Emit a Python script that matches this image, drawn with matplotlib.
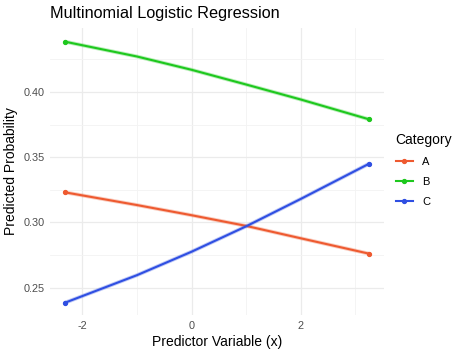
import matplotlib
matplotlib.use("Agg")
import matplotlib.pyplot as plt
from matplotlib.ticker import MultipleLocator

plt.rcParams['font.family'] = ['Liberation Sans', 'DejaVu Sans']

# values
x_vals = [-2.31, -1.0, 0.0, 1.0, 2.0, 3.25]
prob_a = [0.323, 0.3133, 0.3055, 0.2973, 0.2878, 0.276]
prob_b = [0.4385, 0.4272, 0.417, 0.4057, 0.3942, 0.379]
prob_c = [0.2385, 0.2595, 0.2775, 0.297, 0.318, 0.345]
categories = ['A', 'B', 'C']
colors = ['#EE5A30', '#1EC81E', '#2F4FE2']

fig = plt.figure(figsize=(4.74, 3.55), dpi=100)
ax = fig.add_axes([0.1055, 0.1127, 0.7055, 0.8083])

for name, probs, col in zip(categories, [prob_a, prob_b, prob_c], colors):
    ax.plot(x_vals, probs, color=col, lw=2.8, alpha=0.3, solid_capstyle='round')
    ax.plot(x_vals, probs, color=col, lw=1.5, label=name,
            marker='o', markersize=2.8, markevery=[0, len(x_vals) - 1])

ax.set_xlim(-2.59, 3.53)
ax.set_ylim(0.229, 0.449)
ax.xaxis.set_minor_locator(MultipleLocator(1))
ax.yaxis.set_minor_locator(MultipleLocator(0.025))
ax.set_yticks([0.25, 0.30, 0.35, 0.40])
ax.set_yticklabels(['0.25', '0.30', '0.35', '0.40'])
ax.set_xticks([-2, 0, 2])
ax.set_xticklabels(['-2', '0', '2'])

ax.grid(which='major', color='#EBEBEB', lw=0.9)
ax.grid(which='minor', color='#F3F3F3', lw=0.6)
ax.set_axisbelow(True)
for s in ax.spines.values():
    s.set_visible(False)
ax.tick_params(which='both', length=0, colors='#4D4D4D', labelsize=7.8, pad=4)

ax.set_xlabel('Predictor Variable (x)', fontsize=10, labelpad=3)
ax.set_ylabel('Predicted Probability', fontsize=10, labelpad=4)
fig.text(0.105, 0.961, 'Multinomial Logistic Regression', fontsize=11.7, va='center', ha='left')

leg = ax.legend(title='Category', loc='upper left', bbox_to_anchor=(1.02, 0.65),
                frameon=False, fontsize=8, title_fontsize=10, handlelength=1.6,
                labelspacing=0.9, borderaxespad=0)
leg._legend_box.align = 'left'

fig.savefig('out.png', dpi=100)
